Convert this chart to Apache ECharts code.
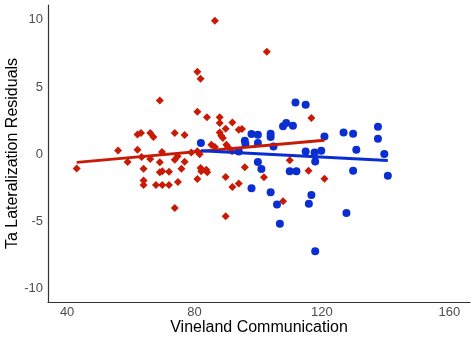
<!DOCTYPE html>
<html>
<head>
<meta charset="utf-8">
<script src="https://cdn.jsdelivr.net/npm/echarts@6/dist/echarts.min.js"></script>
<style>
  html, body { margin: 0; padding: 0; background: #fff; }
  #chart { width: 474px; height: 344px; }
</style>
</head>
<body>
<div id="chart"></div>
<script>
// Group 1 (red diamonds): Vineland Communication vs Ta lateralization residual
const redX = [43.0, 69.1, 80.9, 62.1, 63.2, 66.1, 67.1, 73.8, 76.9, 56.0, 62.1, 59.0, 63.4, 66.1,
  69.8, 69.1, 73.8, 74.7, 76.9, 79.0, 81.6, 64.0, 75.9, 81.9, 82.1, 69.1, 69.9, 72.0, 64.0, 64.0,
  67.9, 69.9, 72.0, 74.8, 80.9, 73.8, 83.9, 87.9, 87.9, 91.9, 89.8, 93.9, 94.9, 87.9, 88.4, 88.9,
  85.3, 86.4, 90.0, 90.5, 80.9, 91.8, 83.7, 84.0, 89.8, 95.8, 91.9, 93.9, 101.8, 89.8, 109.9,
  116.7, 115.8, 120.8, 107.8, 86.4, 80.9, 81.9, 102.7];
const redY = [-1.06, 4.0, 3.16, 1.47, 1.58, 1.58, 1.28, 1.58, 1.43, 0.28, 0.33, -0.58, -0.21, -0.36,
  0.16, -0.61, -0.41, -0.16, -0.56, 0.13, 0.0, -1.08, -1.08, -1.03, -1.28, -1.35, -1.28, -1.30, -1.95, -2.29,
  -2.29, -2.29, -2.29, -2.07, -1.85, -4.0, 2.74, 2.74, 2.32, 2.36, 1.90, 1.82, 1.87, 1.62, 1.38, 1.20,
  0.71, 0.54, 0.71, 0.54, 0.21, 0.21, -1.15, -1.35, -1.70, -0.98, -2.44, -2.19, -1.72, -4.62, -0.46,
  2.69, -1.23, -1.82, -3.51, 9.93, 6.13, 5.61, 7.62];

// Group 2 (blue circles)
const blueX = [82.0, 95.8, 96.0, 97.9, 99.9, 99.9, 103.9, 103.9, 104.8, 99.9, 101.0, 97.9, 103.9,
  105.9, 106.8, 107.8, 108.8, 110.9, 111.7, 114.9, 114.9, 109.9, 112.0, 117.7, 119.8, 117.9, 120.8,
  116.7, 115.9, 117.9, 126.8, 129.8, 130.8, 129.8, 127.7, 137.6, 137.6, 139.6, 140.7, 93.9];
const blueY = [0.83, 1.0, 0.75, 1.50, 1.45, 0.83, 1.52, 1.28, 0.58, -0.58, -1.10, -2.54, -2.84,
  -3.75, -5.17, 2.07, 2.32, 2.12, 3.85, 3.68, 0.19, -1.28, -1.28, 0.13, 0.26, -0.54, 1.32,
  -3.03, -3.68, -7.23, 1.62, 1.52, 0.33, -1.23, -4.37, 2.04, 1.15, 0.01, -1.60, 0.2];

// Linear fit lines per group (end points)
const redFitX = [43.0, 120.8];
const redFitY = [-0.61, 1.03];
const blueFitX = [82.0, 140.7];
const blueFitY = [0.26, -0.48];

// Axis tick labels
const xTicks = [40, 80, 120, 160];
const yTicks = [-10, -5, 0, 5, 10];

const RED = '#C81A05';
const BLUE = '#0A2ED2';

const zip = (xs, ys) => xs.map((x, i) => [x, ys[i]]);

const chart = echarts.init(document.getElementById('chart'), null, { renderer: 'canvas' });

const axisText = { color: '#4D4D4D', fontSize: 13, fontFamily: 'Liberation Sans, Arial, sans-serif' };
const titleText = { color: '#000', fontSize: 16, fontFamily: 'Liberation Sans, Arial, sans-serif' };

chart.setOption({
  animation: false,
  backgroundColor: '#fff',
  grid: { left: 48, right: 4, top: 5, bottom: 42, containLabel: false, outerBoundsMode: 'none' },
  xAxis: {
    type: 'value',
    min: 34, max: 166.5,
    name: 'Vineland Communication',
    nameLocation: 'middle',
    nameGap: 18,
    nameMoveOverlap: false,
    nameTextStyle: titleText,
    axisLine: { show: true, onZero: false, lineStyle: { color: '#333', width: 1.2 } },
    axisTick: { show: false },
    splitLine: { show: false },
    axisLabel: Object.assign({ margin: 4, customValues: xTicks }, axisText)
  },
  yAxis: {
    type: 'value',
    min: -11, max: 11.1,
    name: 'Ta Lateralization Residuals',
    nameLocation: 'middle',
    nameGap: 27,
    nameMoveOverlap: false,
    nameTextStyle: titleText,
    axisLine: { show: true, onZero: false, lineStyle: { color: '#333', width: 1.2 } },
    axisTick: { show: false },
    splitLine: { show: false },
    axisLabel: Object.assign({ margin: 5, customValues: yTicks }, axisText)
  },
  series: [
    {
      type: 'scatter',
      data: zip(redX, redY),
      symbol: 'diamond',
      symbolSize: 8,
      itemStyle: { color: RED, opacity: 1 },
      z: 2
    },
    {
      type: 'scatter',
      data: zip(blueX, blueY),
      symbol: 'circle',
      symbolSize: 8,
      itemStyle: { color: BLUE, opacity: 1 },
      z: 3
    },
    {
      type: 'line',
      data: zip(redFitX, redFitY),
      showSymbol: false,
      lineStyle: { color: RED, width: 3 },
      z: 4
    },
    {
      type: 'line',
      data: zip(blueFitX, blueFitY),
      showSymbol: false,
      lineStyle: { color: BLUE, width: 3 },
      z: 5
    }
  ]
});
</script>
</body>
</html>
